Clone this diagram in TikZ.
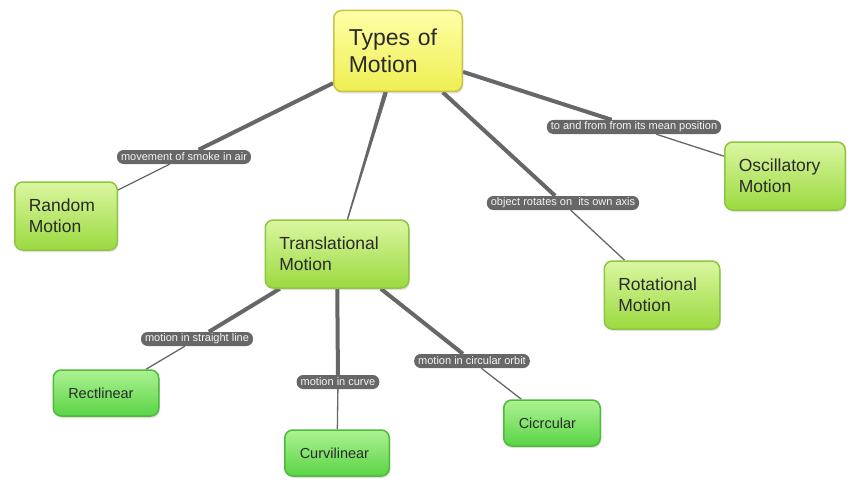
\documentclass[tikz,border=0pt]{standalone}
\usepackage{fontspec}
\setmainfont{Liberation Sans}
\usetikzlibrary{positioning, calc, shadows, backgrounds}
\definecolor{linkgray}{HTML}{676767}
\definecolor{textdark}{HTML}{2A2A2A}
\definecolor{rootline}{HTML}{C8C446}
\definecolor{roottop}{HTML}{FFFFA8}
\definecolor{rootbot}{HTML}{EEEE52}
\definecolor{topicline}{HTML}{8DC63F}
\definecolor{topictop}{HTML}{DAF6A0}
\definecolor{topicbot}{HTML}{9BDA40}
\definecolor{leafline}{HTML}{4DBA3A}
\definecolor{leaftop}{HTML}{ACF292}
\definecolor{leafbot}{HTML}{5AD446}
\tikzset{boxbase/.style={rounded corners=8pt, line width=1.5pt, text=textdark,
    align=left, drop shadow={shadow xshift=1pt, shadow yshift=-2pt, opacity=0.25}}}
\tikzset{rootbox/.style={boxbase, draw=rootline, top color=roottop, bottom color=rootbot,
    inner xsep=15pt, minimum height=81pt, text width=#1, font=\fontsize{23}{27}\selectfont}}
\tikzset{topicbox/.style={boxbase, draw=topicline, top color=topictop, bottom color=topicbot,
    inner xsep=14pt, minimum height=68pt, text width=#1, font=\fontsize{17.5}{21}\selectfont}}
\tikzset{leafbox/.style={boxbase, draw=leafline, top color=leaftop, bottom color=leafbot,
    inner xsep=15pt, minimum height=46pt, text width=#1, font=\fontsize{14.5}{17}\selectfont}}
\tikzset{linklabel/.style={fill=linkgray, text=white!92!gray, rounded corners=6.5pt,
    inner xsep=4pt, inner ysep=0pt, minimum height=14pt, font=\fontsize{11}{12}\selectfont}}
\tikzset{thicklink/.style={draw=linkgray, line width=4pt}}
\tikzset{thinlink/.style={draw=linkgray, line width=1.3pt}}

\begin{document}
\begin{tikzpicture}[x=1pt, y=-1pt]
  \useasboundingbox (0,0) rectangle (855,487);
  % Concepts
  \node[rootbox=98.5pt] (types) at (398,51) {Types of\\Motion};
  \node[topicbox=74.5pt] (random) at (66,216) {Random\\Motion};
  \node[topicbox=115.5pt] (trans) at (337,254) {Translational\\Motion};
  \node[topicbox=92.5pt] (osc) at (785,176) {Oscillatory\\Motion};
  \node[topicbox=87.5pt] (rot) at (662,295) {Rotational\\Motion};
  \node[leafbox=75.5pt] (rect) at (106,393) {Rectlinear};
  \node[leafbox=74.5pt] (curvi) at (337,453) {Curvilinear};
  \node[leafbox=66.5pt] (circ) at (552,423) {Cicrcular};
  % Link labels
  \node[linklabel] (lsmoke) at (184,157) {movement of smoke in air};
  \node[linklabel] (lmean) at (634,127) {to and from from its mean position};
  \node[linklabel] (laxis) at (563,203) {object rotates on\ \ its own axis};
  \node[linklabel] (lline) at (197,339) {motion in straight line};
  \node[linklabel] (lcurve) at (338,382) {motion in curve};
  \node[linklabel] (lorbit) at (472,361) {motion in circular orbit};
  \coordinate (tstart) at (385.7,92);
  \coordinate (tend) at (347,221);
  % Links
  \begin{scope}[on background layer]
    \fill[white] (0,0) rectangle (855,487);
    \draw[thicklink] (types) -- (lsmoke);
    \draw[thinlink] (lsmoke) -- (random);
    \draw[thicklink] (types) -- (lmean);
    \draw[thinlink] (lmean) -- (osc);
    \draw[thicklink] (types) -- (laxis);
    \draw[thinlink] (laxis) -- (rot);
    \fill[linkgray] ($(tstart)!2.2pt!90:(tend)$) -- ($(tstart)!2.2pt!-90:(tend)$)
      -- ($(tend)!0.7pt!90:(tstart)$) -- ($(tend)!0.7pt!-90:(tstart)$) -- cycle;
    \draw[thicklink] (trans) -- (lline);
    \draw[thinlink] (lline) -- (rect);
    \draw[thicklink] (trans) -- (lcurve);
    \draw[thinlink] (lcurve) -- (curvi);
    \draw[thicklink] (trans) -- (lorbit);
    \draw[thinlink] (lorbit) -- (circ);
  \end{scope}
\end{tikzpicture}
\end{document}
